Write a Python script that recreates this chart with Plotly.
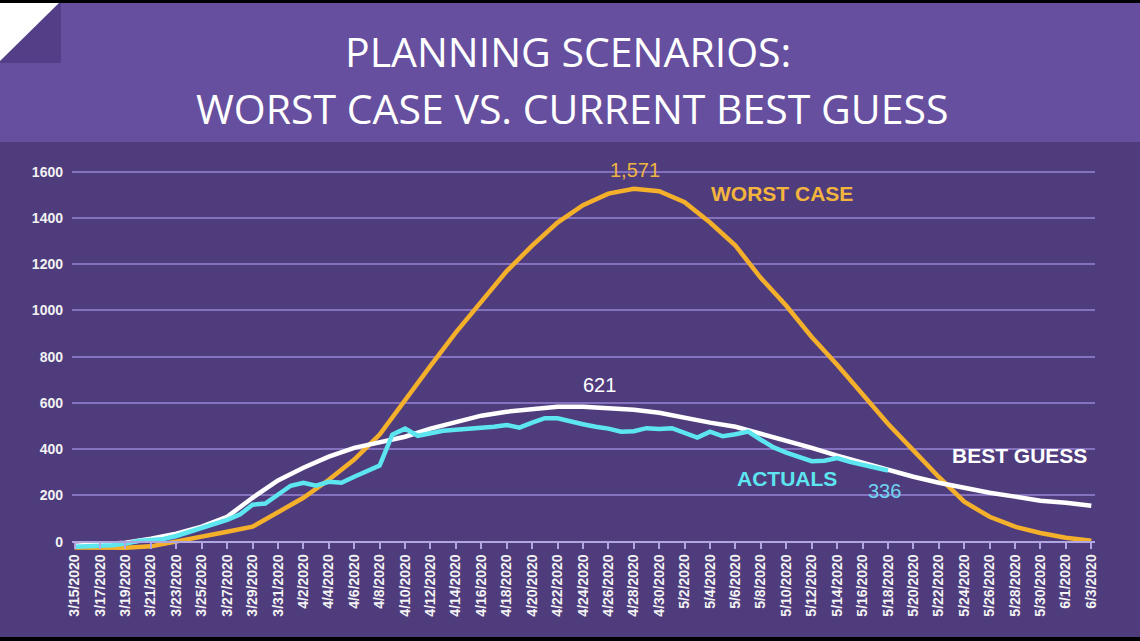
import pandas as pd
import plotly.graph_objects as go

# ---------------- data ----------------
tick_labels = [
    "3/15/2020", "3/17/2020", "3/19/2020", "3/21/2020", "3/23/2020", "3/25/2020",
    "3/27/2020", "3/29/2020", "3/31/2020", "4/2/2020", "4/4/2020", "4/6/2020",
    "4/8/2020", "4/10/2020", "4/12/2020", "4/14/2020", "4/16/2020", "4/18/2020",
    "4/20/2020", "4/22/2020", "4/24/2020", "4/26/2020", "4/28/2020", "4/30/2020",
    "5/2/2020", "5/4/2020", "5/6/2020", "5/8/2020", "5/10/2020", "5/12/2020",
    "5/14/2020", "5/16/2020", "5/18/2020", "5/20/2020", "5/22/2020", "5/24/2020",
    "5/26/2020", "5/28/2020", "5/30/2020", "6/1/2020", "6/3/2020",
]

worst_case = [
    -25, -25, -26, -20, 0, 22, 43, 65, 125, 190, 268, 355, 463, 615, 760, 905,
    1040, 1170, 1280, 1380, 1455, 1505, 1526, 1515, 1468, 1380, 1280, 1140, 1020,
    885, 765, 640, 510, 395, 280, 173, 108, 65, 38, 17, 4,
]

best_guess = [
    -17, -12, -4, 13, 35, 65, 108, 190, 265, 320, 368, 406, 428, 454, 489, 519,
    545, 562, 575, 584, 584, 579, 571, 558, 536, 515, 497, 467, 440, 406, 372,
    342, 307, 281, 255, 233, 212, 195, 177, 169, 156,
]

actuals_start = "3/15/2020"
actuals = [
    -22, -20, -18, -15, -8, 3, 8, 12, 25, 42, 58, 75, 95, 118, 160, 165, 203,
    242, 255, 242, 259, 255, 281, 307, 329, 463, 489, 458, 471, 480, 484, 487,
    493, 497, 505, 493, 515, 534, 534, 519, 508, 497, 489, 476, 478, 491, 487,
    491, 471, 450, 476, 456, 465, 476, 441, 408, 385, 365, 348, 350, 362, 345,
    332, 320, 308,
]

y_ticks = [0, 200, 400, 600, 800, 1000, 1200, 1400, 1600]

# ---------------- layout helpers ----------------
W, H = 1140, 641
ML, MR, MT, MB = 72, 45, 167, 90
PW, PH = W - ML - MR, H - MT - MB
Y_MIN, Y_MAX = -40, 1620


def px(xp):
    return (xp - ML) / PW


def py(yp):
    return (H - MB - yp) / PH


BG = "#4F3C7D"
BAND = "#664F9E"
GRID = "#8472BE"
AXIS = "#B2A6E0"
ORANGE = "#F4B02A"
CYAN = "#5DE6EF"

tick_dates = pd.to_datetime(tick_labels, format="%m/%d/%Y")
act_dates = pd.date_range(pd.to_datetime(actuals_start, format="%m/%d/%Y"),
                          periods=len(actuals), freq="D")

fig = go.Figure()
fig.add_trace(go.Scatter(x=tick_dates, y=worst_case, mode="lines",
                         line=dict(color=ORANGE, width=4.5), name="Worst case"))
fig.add_trace(go.Scatter(x=tick_dates, y=best_guess, mode="lines",
                         line=dict(color="#FFFFFF", width=4.5), name="Best guess"))
fig.add_trace(go.Scatter(x=act_dates, y=actuals, mode="lines",
                         line=dict(color=CYAN, width=4.5), name="Actuals"))

x_lo = tick_dates[0] - pd.Timedelta(hours=5)
x_hi = tick_dates[-1] + pd.Timedelta(hours=7)

shapes = [
    # title band
    dict(type="rect", xref="paper", yref="paper", x0=px(0), x1=px(W),
         y0=py(142), y1=py(3), fillcolor=BAND, line_width=0, layer="below"),
    # black top / bottom strips
    dict(type="rect", xref="paper", yref="paper", x0=px(0), x1=px(W),
         y0=py(3), y1=py(0), fillcolor="#000000", line_width=0, layer="below"),
    dict(type="rect", xref="paper", yref="paper", x0=px(0), x1=px(W),
         y0=py(H), y1=py(637), fillcolor="#000000", line_width=0, layer="below"),
    # folded corner
    dict(type="rect", xref="paper", yref="paper", x0=px(0), x1=px(61),
         y0=py(63), y1=py(3), fillcolor="#533F88", line_width=0, layer="below"),
    dict(type="path", xref="paper", yref="paper",
         path=f"M {px(0)},{py(3)} L {px(59)},{py(3)} L {px(0)},{py(61)} Z",
         fillcolor="#FFFFFF", line_width=0, layer="below"),
    # label backdrops that interrupt gridlines
    dict(type="rect", xref="paper", yref="paper", x0=px(923), x1=px(1100),
         y0=py(468), y1=py(440), fillcolor=BG, line_width=0, layer="between"),
    dict(type="rect", xref="paper", yref="paper", x0=px(727), x1=px(855),
         y0=py(505), y1=py(487), fillcolor=BG, line_width=0, layer="between"),
]

ann_font = "Liberation Sans, Arial, sans-serif"
annotations = [
    dict(text="PLANNING SCENARIOS:", x=px(568), y=py(51), showarrow=False,
         font=dict(family="Open Sans", size=41, color="#FFFFFF")),
    dict(text="WORST CASE VS. CURRENT BEST GUESS", x=px(572), y=py(108),
         showarrow=False,
         font=dict(family="Open Sans", size=41, color="#FFFFFF")),
    dict(text="1,571", x=px(635), y=py(170), showarrow=False,
         font=dict(family=ann_font, size=20, color="#EDB440")),
    dict(text="<b>WORST CASE</b>", x=px(782), y=py(193), showarrow=False,
         font=dict(family=ann_font, size=21, color="#F4B53C")),
    dict(text="621", x=px(599), y=py(385), showarrow=False,
         font=dict(family=ann_font, size=20, color="#FFFFFF")),
    dict(text="<b>BEST GUESS</b>", x=px(1019), y=py(455), showarrow=False,
         font=dict(family=ann_font, size=21, color="#FFFFFF")),
    dict(text="<b>ACTUALS</b>", x=px(787), y=py(478), showarrow=False,
         font=dict(family=ann_font, size=21, color=CYAN)),
    dict(text="336", x=px(884), y=py(491), showarrow=False,
         font=dict(family=ann_font, size=20, color="#6FD6F2")),
]
for a in annotations:
    a.update(xref="paper", yref="paper", xanchor="center", yanchor="middle")

fig.update_layout(
    width=W, height=H,
    margin=dict(l=ML, r=MR, t=MT, b=MB, pad=0),
    paper_bgcolor=BG, plot_bgcolor=BG,
    showlegend=False,
    shapes=shapes,
    annotations=annotations,
    xaxis=dict(
        type="date", range=[x_lo, x_hi],
        tickvals=tick_dates, ticktext=tick_labels, tickangle=-90,
        tickfont=dict(family=ann_font, size=14, color="#F2F2F2", weight="bold"),
        showgrid=False, zeroline=False,
        showline=True, linecolor=AXIS, linewidth=2,
        ticks="outside", ticklen=6, tickwidth=1.5, tickcolor=AXIS,
        anchor="free", position=(0 - Y_MIN) / (Y_MAX - Y_MIN),
    ),
    yaxis=dict(
        range=[Y_MIN, Y_MAX], tickvals=y_ticks,
        tickfont=dict(family=ann_font, size=14, color="#F2F2F2", weight="bold"),
        showgrid=True, gridcolor=GRID, gridwidth=1.5,
        zeroline=False, showline=False, ticks="",
        ticklabelstandoff=8,
    ),
)

fig.write_html("out.html")
